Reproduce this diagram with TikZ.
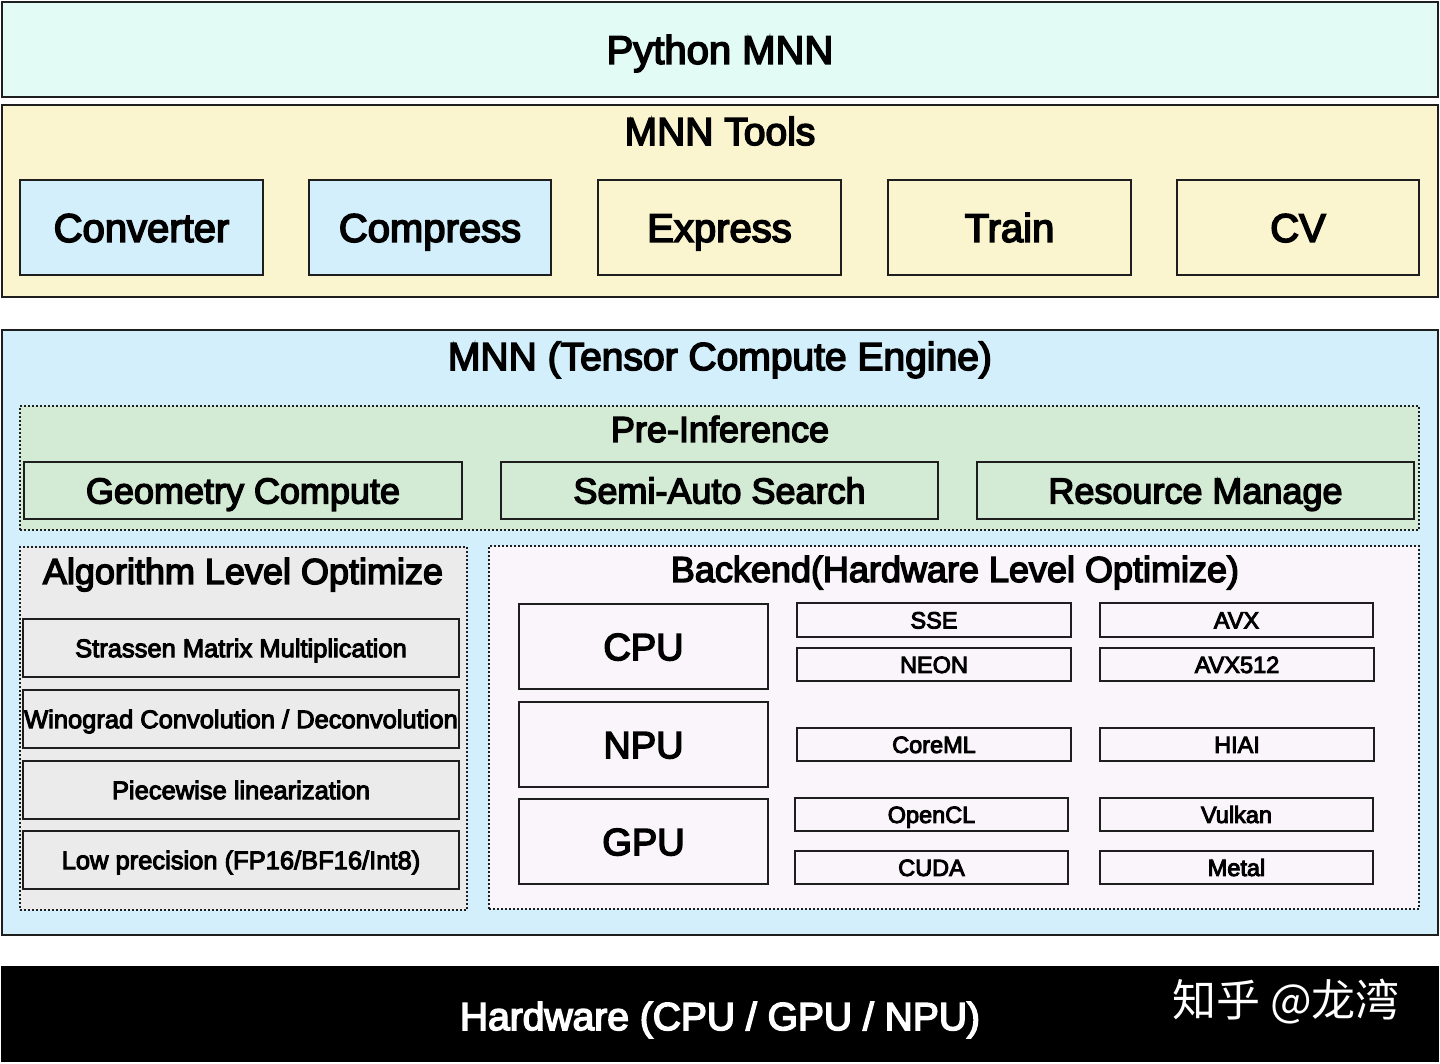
\documentclass[tikz,border=0pt]{standalone}
\usepackage{fontspec}
\setmainfont{Liberation Sans}[FakeBold=4]
\newfontfamily\cjk{Noto Sans CJK SC}
\definecolor{mint}{HTML}{E3FBF5}
\definecolor{cream}{HTML}{FBF5CF}
\definecolor{skyb}{HTML}{D3EFFB}
\definecolor{leaf}{HTML}{D3EAD4}
\definecolor{greyb}{HTML}{EBEBEB}
\definecolor{lav}{HTML}{FAF5FA}
\definecolor{edge}{HTML}{1E1E1E}
\newcommand\rbox[7]{\node[#2, minimum width={(#5-#3)*1pt}, minimum height={(#6-#4)*1pt}] (#1) at ({(#3+#5)/2},{(#4+#6)/2}) {#7};}
\begin{document}
\begin{tikzpicture}[x=1pt,y=-1pt,
  bx/.style={draw=edge, line width=2.5pt, inner sep=0pt, text depth=0pt},
  dotbox/.style={draw=edge, line width=2.5pt, dash pattern=on 2pt off 2pt, inner sep=0pt},
  ttl/.style={inner sep=0pt, text depth=0pt},
  fs/.code={\pgfmathsetmacro\mytxh{0.72*#1}\tikzset{font=\fontsize{#1}{#1}\selectfont, text height=\mytxh pt}}]
\useasboundingbox (0,0) rectangle (1440,1063);
% Python MNN
\rbox{py}{bx, fill=mint, fs=40}{2}{2}{1438}{97}{Python MNN}
% MNN Tools
\rbox{tools}{bx, fill=cream}{2}{105}{1438}{297}{}
\node[ttl, fs=39] (toolsT) at (720,131) {MNN Tools};
\rbox{conv}{bx, fill=skyb, fs=40}{20}{180}{263}{275}{Converter}
\rbox{comp}{bx, fill=skyb, fs=40}{309}{180}{551}{275}{Compress}
\rbox{expr}{bx, fill=cream, fs=40}{598}{180}{841}{275}{Express}
\rbox{train}{bx, fill=cream, fs=40}{888}{180}{1131}{275}{Train}
\rbox{cv}{bx, fill=cream, fs=40}{1177}{180}{1419}{275}{CV}
% Engine
\rbox{eng}{bx, fill=skyb}{2}{330}{1438}{935}{}
\node[ttl, fs=39] (engT) at (720,356) {MNN (Tensor Compute Engine)};
% Pre-inference
\rbox{pre}{dotbox, fill=leaf}{20}{406}{1419}{530}{}
\node[ttl, fs=36] (preT) at (720,429) {Pre-Inference};
\rbox{geo}{bx, fill=leaf, fs=36}{24}{462}{462}{519}{Geometry Compute}
\rbox{semi}{bx, fill=leaf, fs=36}{501}{462}{938}{519}{Semi-Auto Search}
\rbox{res}{bx, fill=leaf, fs=36}{977}{462}{1414}{519}{Resource Manage}
% Algorithm
\rbox{alg}{dotbox, fill=greyb}{20}{547}{467}{910}{}
\node[ttl, fs=36] (algT) at (243,571) {Algorithm Level Optimize};
\rbox{str}{bx, fill=greyb, fs=25.5}{23}{619}{459}{677}{Strassen Matrix Multiplication}
\rbox{win}{bx, fill=greyb, fs=25.5}{23}{690}{459}{748}{Winograd Convolution / Deconvolution}
\rbox{pw}{bx, fill=greyb, fs=25.5}{23}{761}{459}{819}{Piecewise linearization}
\rbox{low}{bx, fill=greyb, fs=25.5}{23}{831}{459}{889}{Low precision (FP16/BF16/Int8)}
% Backend
\rbox{be}{dotbox, fill=lav}{489}{546}{1419}{909}{}
\node[ttl, fs=36] (beT) at (955,569) {Backend(Hardware Level Optimize)};
\rbox{cpu}{bx, fill=lav, fs=38}{519}{604}{768}{689}{CPU}
\rbox{npu}{bx, fill=lav, fs=38}{519}{702}{768}{787}{NPU}
\rbox{gpu}{bx, fill=lav, fs=38}{519}{799}{768}{884}{GPU}
\rbox{sse}{bx, fill=lav, fs=23.5}{797}{603}{1071}{637}{SSE}
\rbox{neon}{bx, fill=lav, fs=23.5}{797}{648}{1071}{681}{NEON}
\rbox{coreml}{bx, fill=lav, fs=23.5}{797}{728}{1071}{761}{CoreML}
\rbox{opencl}{bx, fill=lav, fs=23.5}{795}{798}{1068}{831}{OpenCL}
\rbox{cuda}{bx, fill=lav, fs=23.5}{795}{851}{1068}{884}{CUDA}
\rbox{avx}{bx, fill=lav, fs=23.5}{1100}{603}{1373}{637}{AVX}
\rbox{avx5}{bx, fill=lav, fs=23.5}{1100}{648}{1374}{681}{AVX512}
\rbox{hiai}{bx, fill=lav, fs=23.5}{1100}{728}{1374}{761}{HIAI}
\rbox{vulkan}{bx, fill=lav, fs=23.5}{1100}{798}{1373}{831}{Vulkan}
\rbox{metal}{bx, fill=lav, fs=23.5}{1100}{851}{1373}{884}{Metal}
% Hardware
\rbox{hw}{bx, fill=black, draw=black}{2}{967}{1438}{1061}{}
\node[ttl, fs=39, text=white] (hwT) at (720,1016) {Hardware (CPU / GPU / NPU)};
\node[inner sep=0pt, text=white, font=\cjk\fontsize{44}{44}\selectfont, anchor=west] (wm) at (1172,1002) {知乎 @龙湾};
\end{tikzpicture}
\end{document}
